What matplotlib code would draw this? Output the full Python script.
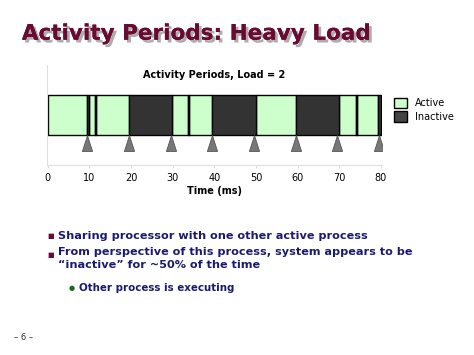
import matplotlib.pyplot as plt
from matplotlib.patches import Patch
import matplotlib.patheffects as pe

# Activity periods (ms): start, duration
active_periods = [(0, 9.4), (10.0, 1.4), (11.6, 7.9), (29.9, 3.7), (33.8, 5.7),
                  (50.0, 9.5), (69.9, 4.2), (74.3, 5.1)]
inactive_periods = [(9.4, 0.6), (11.4, 0.2), (19.5, 10.4), (33.6, 0.2), (39.5, 10.5),
                    (59.5, 10.4), (74.1, 0.2), (79.4, 0.7)]
timer_ticks = [9.5, 19.5, 29.5, 39.5, 49.5, 59.5, 69.5, 79.5]
xticks = [0, 10, 20, 30, 40, 50, 60, 70, 80]

bullets = ["Sharing processor with one other active process",
           "From perspective of this process, system appears to be\n\u201cinactive\u201d for ~50% of the time"]
sub_bullet = "Other process is executing"

fig = plt.figure(figsize=(4.74, 3.55), dpi=100)
fig.patch.set_facecolor('white')

# Slide title with drop shadow
fig.text(0.046, 0.905, "Activity Periods: Heavy Load", fontsize=15.5, fontweight='bold',
         color='#6a0a33', va='center', ha='left',
         path_effects=[pe.withSimplePatchShadow(offset=(2, -2), shadow_rgbFace='#999999', alpha=0.8),
                       pe.Normal()])

# Chart
ax = fig.add_axes([0.0992, 0.535, 0.707, 0.282])
ax.broken_barh(active_periods, (0.30, 0.40), facecolors='#ccffcc', edgecolors='black', linewidth=1)
ax.broken_barh(inactive_periods, (0.30, 0.40), facecolors='#333333', edgecolors='black', linewidth=1)
tri = [(-0.32, -0.5), (0.32, -0.5), (0, 0.5), (-0.32, -0.5)]
ax.scatter(timer_ticks, [0.225] * len(timer_ticks), marker=tri, s=130, color='#777777',
           edgecolors='#555555', linewidths=0.6, zorder=3)

ax.set_xlim(-0.2, 80.3)
ax.set_ylim(0, 1)
ax.set_xticks(xticks)
ax.set_yticks([])
ax.tick_params(axis='x', length=2, color='#dddddd', labelsize=7, pad=4)
for s in ['top', 'right']:
    ax.spines[s].set_visible(False)
for s in ['left', 'bottom']:
    ax.spines[s].set_color('#e0e0e0')
ax.text(0.5, 0.9, "Activity Periods, Load = 2", transform=ax.transAxes, fontsize=7,
        fontweight='bold', ha='center', va='center')
ax.set_xlabel("Time (ms)", fontsize=7, fontweight='bold', labelpad=2)

handles = [Patch(facecolor='#ccffcc', edgecolor='black', label='Active'),
           Patch(facecolor='#444444', edgecolor='black', label='Inactive')]
ax.legend(handles=handles, loc='upper left', bbox_to_anchor=(1.01, 0.76), frameon=False,
          fontsize=7, handlelength=1.3, handleheight=1.3, handletextpad=0.8, labelspacing=0.3)

# Bullet text
navy = '#1a1a70'
fig.text(0.099, 0.335, "\u25a0", fontsize=5, color='#6a0a33', va='center')
fig.text(0.122, 0.335, bullets[0], fontsize=8.1, fontweight='bold', color=navy, va='center')
fig.text(0.099, 0.282, "\u25a0", fontsize=5, color='#6a0a33', va='center')
fig.text(0.122, 0.305, bullets[1], fontsize=8.1, fontweight='bold', color=navy, va='top',
         linespacing=1.45)
fig.text(0.144, 0.190, "\u25cf", fontsize=5, color='#1a6a1a', va='center')
fig.text(0.167, 0.190, sub_bullet, fontsize=7.4, fontweight='bold', color=navy, va='center')

fig.text(0.03, 0.05, "\u2013 6 \u2013", fontsize=6, color='#333333', va='center')

fig.savefig('out.png', dpi=100)
